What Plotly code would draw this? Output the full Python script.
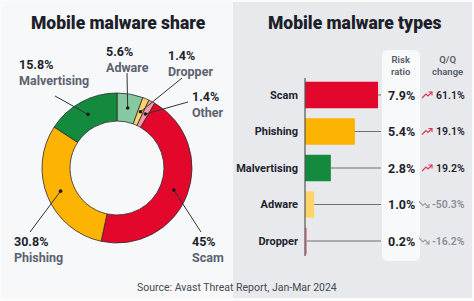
import math
import plotly.graph_objects as go

W, H = 474, 301

# ---------------- data ----------------
share_labels = ["Adware", "Dropper", "Other", "Scam", "Phishing", "Malvertising"]
share_values = [5.6, 1.4, 1.4, 45.0, 30.8, 15.8]
share_colors = ["#86c8a0", "#fdd46a", "#f29aa6", "#e3072c", "#fdb302", "#148a3e"]
share_text = ["5.6%", "1.4%", "1.4%", "45%", "30.8%", "15.8%"]

type_labels = ["Scam", "Phishing", "Malvertising", "Adware", "Dropper"]
risk_ratio = [7.9, 5.4, 2.8, 1.0, 0.2]
risk_text = ["7.9%", "5.4%", "2.8%", "1.0%", "0.2%"]
bar_colors = ["#e3072c", "#fdb302", "#148a3e", "#fdd46a", "#ea8c9c"]
qq_change = [61.1, 19.1, 19.2, -50.3, -16.2]
qq_text = ["61.1%", "19.1%", "19.2%", "-50.3%", "-16.2%"]

source = "Source: Avast Threat Report, Jan-Mar 2024"

FONT = "Roboto"
DARK = "#1d1f2b"
GREY = "#5b6270"


def px(x):
    return x / W


def py(y):
    return 1 - y / H


fig = go.Figure()

# ---------------- donut ----------------
cx, cy, r_out, r_in = 117, 168, 75, 47
fig.add_trace(go.Pie(
    labels=share_labels, values=share_values, sort=False, direction="clockwise",
    rotation=0, hole=r_in / r_out, textinfo="none", hoverinfo="none",
    marker=dict(colors=share_colors, line=dict(color="#2b2b2b", width=0.8)),
    domain=dict(x=[px(cx - r_out), px(cx + r_out)], y=[py(cy + r_out), py(cy - r_out)]),
    showlegend=False,
))

# ---------------- bars ----------------
x_end = 8.22
fig.add_trace(go.Bar(
    x=risk_ratio, y=type_labels, orientation="h", marker=dict(color=bar_colors, line=dict(width=0)),
    width=0.73, xaxis="x", yaxis="y", showlegend=False, hoverinfo="none",
))
for v, lab in zip(risk_ratio, type_labels):
    fig.add_trace(go.Scatter(x=[v, x_end], y=[lab, lab], mode="lines",
                             line=dict(color="#6f6f6f", width=1.2), showlegend=False,
                             hoverinfo="none", xaxis="x", yaxis="y"))

shapes = []
annotations = []

# background panels
shapes.append(dict(type="rect", xref="paper", yref="paper", x0=px(2), x1=px(233), y0=py(298), y1=py(2),
                   fillcolor="#f7f8fa", line=dict(width=0), layer="below"))
shapes.append(dict(type="rect", xref="paper", yref="paper", x0=px(233), x1=px(472), y0=py(298), y1=py(2),
                   fillcolor="#e8e9ec", line=dict(width=0), layer="below"))

# risk ratio column (rounded rect)
x0c, x1c, y0c, y1c, rr = 382, 420, 50, 261, 6
path = (f"M {px(x0c + rr)} {py(y0c)} L {px(x1c - rr)} {py(y0c)} "
        f"Q {px(x1c)} {py(y0c)} {px(x1c)} {py(y0c + rr)} L {px(x1c)} {py(y1c - rr)} "
        f"Q {px(x1c)} {py(y1c)} {px(x1c - rr)} {py(y1c)} L {px(x0c + rr)} {py(y1c)} "
        f"Q {px(x0c)} {py(y1c)} {px(x0c)} {py(y1c - rr)} L {px(x0c)} {py(y0c + rr)} "
        f"Q {px(x0c)} {py(y0c)} {px(x0c + rr)} {py(y0c)} Z")
shapes.append(dict(type="path", xref="paper", yref="paper", path=path, fillcolor="#f8f9fb",
                   line=dict(width=0), layer="below"))

# titles
annotations.append(dict(text="Mobile malware share", x=px(118), y=py(23), xref="paper", yref="paper",
                        showarrow=False, font=dict(family=FONT, size=17.5, color=DARK, weight=900),
                        xanchor="center", yanchor="middle"))
annotations.append(dict(text="Mobile malware types", x=px(355), y=py(23), xref="paper", yref="paper",
                        showarrow=False, font=dict(family=FONT, size=17.5, color=DARK, weight=900),
                        xanchor="center", yanchor="middle"))

# donut labels: dot at slice middle, leader line to label
label_anchor = {  # label block left x, centre y ; leader end point
    "Malvertising": ((17, 72.5), (55, 96)),
    "Adware": ((104, 59.5), (127, 73)),
    "Dropper": ((166, 63.5), (182, 78)),
    "Other": ((190, 104), (188, 102)),
    "Phishing": ((12, 249), (30, 232)),
    "Scam": ((190, 249), (201, 232)),
}
total = sum(share_values)
cum = 0
r_mid = (r_out + r_in) / 2
for lab, val, txt in zip(share_labels, share_values, share_text):
    mid = (cum + val / 2) / total * 2 * math.pi
    cum += val
    dx = cx + r_mid * math.sin(mid)
    dy = cy - r_mid * math.cos(mid)
    (lx, ly), (ex, ey) = label_anchor[lab]
    shapes.append(dict(type="line", xref="paper", yref="paper", x0=px(dx), y0=py(dy), x1=px(ex), y1=py(ey),
                       line=dict(color="#333333", width=1), layer="above"))
    shapes.append(dict(type="circle", xref="paper", yref="paper", x0=px(dx - 1.8), x1=px(dx + 1.8),
                       y0=py(dy + 1.8), y1=py(dy - 1.8), fillcolor="#1a1a1a", line=dict(width=0),
                       layer="above"))
    annotations.append(dict(
        text=f"<b>{txt}</b><br><span style='color:{GREY}'><b>{lab}</b></span>",
        x=px(lx), y=py(ly), xref="paper", yref="paper", showarrow=False, align="left",
        xanchor="left", yanchor="middle", font=dict(family=FONT, size=12.5, color=DARK)))

# headers
annotations.append(dict(text="Risk<br>ratio", x=px(401), y=py(65.5), xref="paper", yref="paper",
                        showarrow=False, align="center", xanchor="center", yanchor="middle",
                        font=dict(family=FONT, size=9.5, color="#555b66", weight=600)))
annotations.append(dict(text="Q/Q<br>change", x=px(447), y=py(65.5), xref="paper", yref="paper",
                        showarrow=False, align="center", xanchor="center", yanchor="middle",
                        font=dict(family=FONT, size=9.5, color="#555b66", weight=600)))

# risk ratio values and Q/Q changes
for i, (lab, rt, q, qt) in enumerate(zip(type_labels, risk_text, qq_change, qq_text)):
    annotations.append(dict(text=f"<b>{rt}</b>", x=px(401), y=lab, xref="paper", yref="y",
                            showarrow=False, xanchor="center", yanchor="middle",
                            font=dict(family=FONT, size=12.5, color=DARK)))
    up = q >= 0
    col_txt = "#22242c" if up else "#8a8d94"
    annotations.append(dict(text=qt, x=px(467), y=lab, xref="paper", yref="y",
                            showarrow=False, xanchor="right", yanchor="middle",
                            font=dict(family=FONT, size=10.5, color=col_txt, weight=600)))

fig.update_layout(
    width=W, height=H, margin=dict(l=0, r=0, t=0, b=0),
    paper_bgcolor="#fbfbfc", plot_bgcolor="rgba(0,0,0,0)",
    xaxis=dict(domain=[px(305), px(381)], range=[0, x_end], visible=False, fixedrange=True),
    yaxis=dict(domain=[py(259.25), py(76.75)], categoryorder="array", categoryarray=type_labels,
               autorange="reversed", showgrid=False, zeroline=False, showline=False,
               ticks="", ticklabelstandoff=6,
               tickfont=dict(family=FONT, size=11, color="#22242c", weight=700)),
    shapes=shapes, annotations=annotations,
    bargap=0.27,
)

# axis line
fig.add_shape(type="line", xref="paper", yref="paper", x0=px(305), x1=px(305), y0=py(256), y1=py(78),
              line=dict(color="#555555", width=1.2), layer="above")

# trend icons (small zig-zag arrows) next to Q/Q values
for idx, (lab, q) in enumerate(zip(type_labels, qq_change)):
    yc = 95 + idx * 36.5
    up = q >= 0
    col = "#e0305a" if up else "#9a9ca3"
    xr = 432 if up else 429
    xl = xr - 10
    if up:
        pts = [(xl, yc + 3), (xl + 4, yc - 1), (xl + 6, yc + 1), (xr, yc - 3)]
        hp_pts = [(xr - 3.5, yc - 3), (xr, yc - 3), (xr, yc + 0.5)]
    else:
        pts = [(xl, yc - 3), (xl + 4, yc + 1), (xl + 6, yc - 1), (xr, yc + 3)]
        hp_pts = [(xr - 3.5, yc + 3), (xr, yc + 3), (xr, yc - 0.5)]
    p = "M " + " L ".join(f"{px(a)} {py(b)}" for a, b in pts)
    fig.add_shape(type="path", xref="paper", yref="paper", path=p, line=dict(color=col, width=1.1))
    hp = "M " + " L ".join(f"{px(a)} {py(b)}" for a, b in hp_pts)
    fig.add_shape(type="path", xref="paper", yref="paper", path=hp, line=dict(color=col, width=1.1))

# source
fig.add_annotation(text=source, x=px(237), y=py(287), xref="paper", yref="paper", showarrow=False,
                   xanchor="center", yanchor="middle", font=dict(family=FONT, size=10.5, color="#454852"))

fig.write_html("out.html")
